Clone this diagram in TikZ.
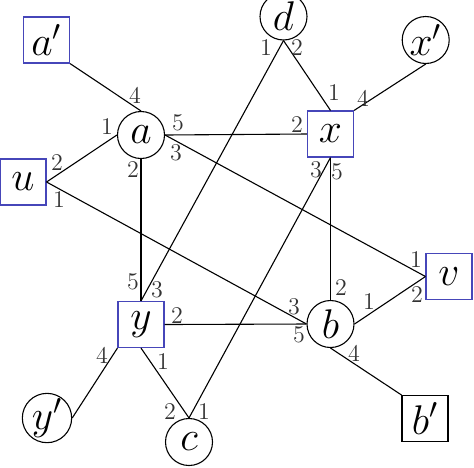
\documentclass[tikz,border=0pt]{standalone}
\definecolor{sqblue}{RGB}{70,70,185}
\tikzset{
  circ/.style={circle,draw,minimum size=23.5pt,inner sep=0pt,font=\huge},
  sq/.style={rectangle,draw=sqblue,minimum size=23pt,inner sep=0pt,font=\huge},
  port/.style={inner sep=0pt,font=\large,text=black!80}
}
\begin{document}
\begin{tikzpicture}[x=0.5pt,y=-0.5pt,line width=0.55pt]
      \useasboundingbox (0,0) rectangle (474,467);
      \draw
        (46.5,40) node[sq] (ap){$a'$}
        (141,135) node[circ] (a){$a$}
        (283.5,16.5) node[circ] (d){$d$}
        (425.7,40) node[circ] (xp){$x'$}
        (330.5,134) node[sq] (x){$x$}
        (23,182) node[sq] (u){$u$}
        (449,276.5) node[sq] (v){$v$}
        (141,324.5) node[sq] (y){$y$}
        (330.5,324) node[circ] (b){$b$}
        (47,418) node[circ] (yp){$y'$}
        (189,442) node[circ] (c){$c$}
        (425,418.5) node[sq,draw=black] (bp){$b'$};
      \begin{scope}[-]
        \draw (ap.south east) to (a.north);
        \draw (u.east) to (a.west);
        \draw (a.east) to (x.west);
        \draw (a.east) to (v.west);
        \draw (a.south) to (y.north);
        \draw (u.east) to (b.west);
        \draw (d.south) to (y.north);
        \draw (d.south) to (x.north);
        \draw (xp.south) to (x.north east);
        \draw (x.south) to (b.north);
        \draw (x.south) to (c.north);
        \draw (y.east) to (b.west);
        \draw (y.south) to (c.north);
        \draw (y.south west) to (yp.east);
        \draw (b.east) to (v.west);
        \draw (b.south) to (bp.north west);
      \end{scope}
      % port numbers
      \draw
        (135,95) node[port] (a4){4}
        (107,127) node[port] (a1){1}
        (178,123) node[port] (a5){5}
        (176,153) node[port] (a3){3}
        (133,170) node[port] (a2){2}
        (57,163) node[port] (u2){2}
        (59,200) node[port] (u1){1}
        (266,48) node[port] (d1){1}
        (297,48) node[port] (d2){2}
        (334,93) node[port] (x1){1}
        (363,98) node[port] (x4){4}
        (297,125) node[port] (x2){2}
        (316,170) node[port] (x3){3}
        (337,172) node[port] (x5){5}
        (133,282) node[port] (y5){5}
        (157,290) node[port] (y3){3}
        (177,316) node[port] (y2){2}
        (163,362) node[port] (y1){1}
        (102,355) node[port] (y4){4}
        (170,412) node[port] (c2){2}
        (204,412) node[port] (c1){1}
        (341,288) node[port] (b2){2}
        (294,307) node[port] (b3){3}
        (299,335) node[port] (b5){5}
        (369,302) node[port] (b1){1}
        (354,353) node[port] (b4){4}
        (416,260) node[port] (v1){1}
        (417,295) node[port] (v2){2};
    \end{tikzpicture}
\end{document}
